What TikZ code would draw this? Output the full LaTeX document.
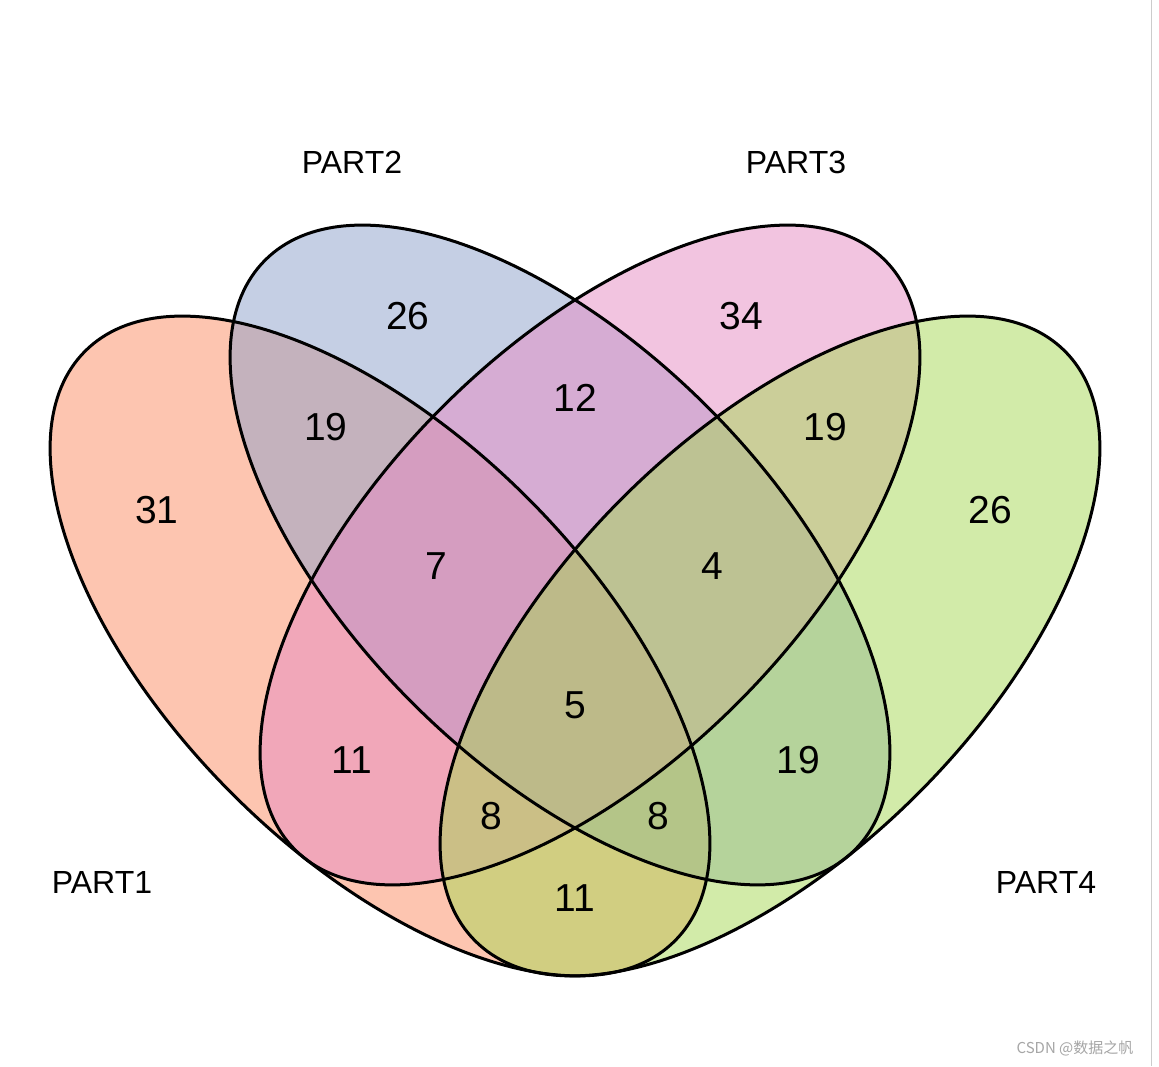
\documentclass[tikz,border=0pt]{standalone}
\usepackage{fontspec}
\setmainfont{Liberation Sans}
\newfontfamily\cjk{Noto Sans CJK SC}
\definecolor{cA}{HTML}{FC8D62}
\definecolor{cB}{HTML}{8DA0CB}
\definecolor{cC}{HTML}{E78AC3}
\definecolor{cD}{HTML}{A6D854}
\begin{document}
\begin{tikzpicture}[x=1pt,y=1pt,
  eline/.style={draw=black,line width=3pt},
  num/.style={font=\fontsize{39}{39}\selectfont},
  lab/.style={font=\fontsize{32}{32}\selectfont}]
\useasboundingbox (0,0) rectangle (1159,1066);
\fill[white] (0,0) rectangle (1159,1066);
\draw[gray!40,line width=1pt] (1151,0) -- (1151,1066);
\fill[cA,fill opacity=0.5] (380,420) ellipse [x radius=417,y radius=209,rotate=-45];
\fill[cB,fill opacity=0.5] (560,511) ellipse [x radius=417,y radius=209,rotate=-45];
\fill[cC,fill opacity=0.5] (590,511) ellipse [x radius=417,y radius=209,rotate=45];
\fill[cD,fill opacity=0.5] (770,420) ellipse [x radius=417,y radius=209,rotate=45];
\draw[eline] (380,420) ellipse [x radius=417,y radius=209,rotate=-45];
\draw[eline] (560,511) ellipse [x radius=417,y radius=209,rotate=-45];
\draw[eline] (590,511) ellipse [x radius=417,y radius=209,rotate=45];
\draw[eline] (770,420) ellipse [x radius=417,y radius=209,rotate=45];
\node[num] (n1) at (157,556) {31};
\node[num] (n2) at (408,750) {26};
\node[num] (n3) at (741,750) {34};
\node[num] (n4) at (990,556) {26};
\node[num] (n5) at (326,639) {19};
\node[num] (n6) at (575,668) {12};
\node[num] (n7) at (825,639) {19};
\node[num] (n8) at (436,500) {7};
\node[num] (n9) at (712,500) {4};
\node[num] (n10) at (575,361) {5};
\node[num] (n11) at (352,306) {11};
\node[num] (n12) at (798,306) {19};
\node[num] (n13) at (491,250) {8};
\node[num] (n14) at (658,250) {8};
\node[num] (n15) at (575,168) {11};
\node[lab] (l2) at (352,904) {PART2};
\node[lab] (l3) at (796,904) {PART3};
\node[lab] (l1) at (102,184) {PART1};
\node[lab] (l4) at (1046,184) {PART4};
\node[text=gray!70,font=\cjk\fontsize{15}{15}\selectfont] (wm) at (1075,18) {CSDN @数据之帆};
\end{tikzpicture}
\end{document}
